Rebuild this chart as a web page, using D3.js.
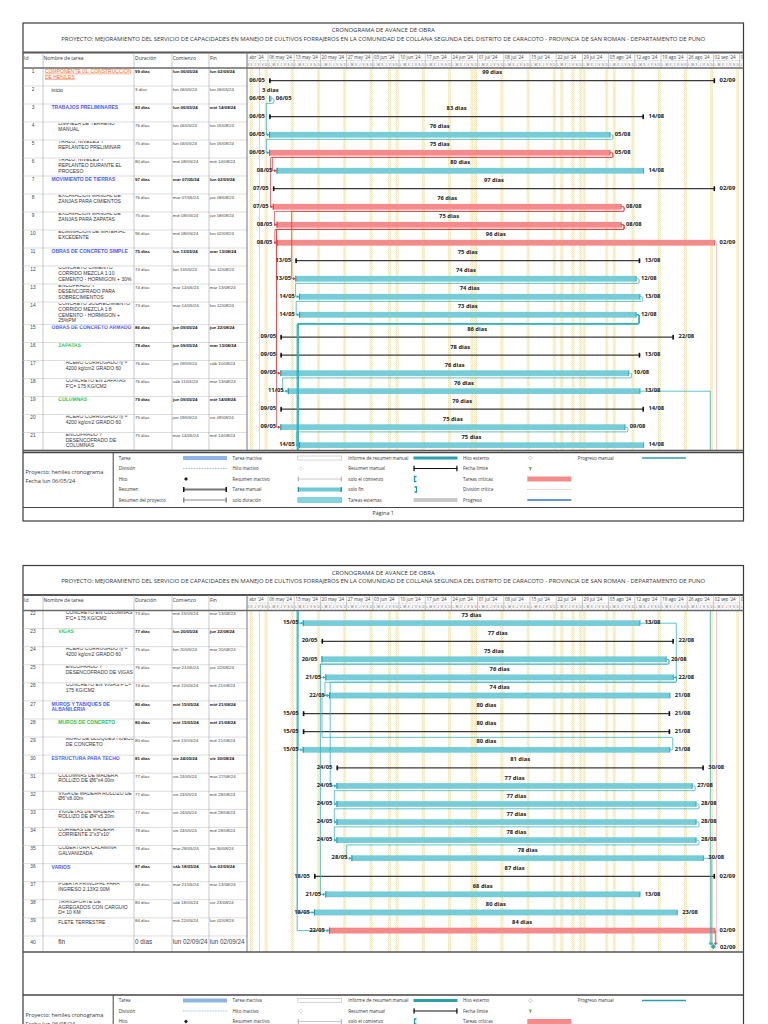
<!DOCTYPE html>
<html><head><meta charset="utf-8">
<script src="https://cdn.jsdelivr.net/npm/d3@7/dist/d3.min.js"></script>
<style>html,body{margin:0;padding:0;background:#fff;} svg{display:block}</style>
</head><body>
<svg id="chart" width="768" height="1024" xmlns="http://www.w3.org/2000/svg"></svg>
<script>
// ================= DATA =================
const titleText = "CRONOGRAMA DE AVANCE DE OBRA";
const projectText = "PROYECTO: MEJORAMIENTO DEL SERVICIO DE CAPACIDADES EN MANEJO DE CULTIVOS FORRAJEROS EN LA COMUNIDAD DE COLLANA SEGUNDA DEL DISTRITO DE CARACOTO - PROVINCIA DE SAN ROMAN - DEPARTAMENTO DE PUNO";
const columnHeaders = ["Id", "Nombre de tarea", "Duración", "Comienzo", "Fin"];
const taskIds = [1,2,3,4,5,6,7,8,9,10,11,12,13,14,15,16,17,18,19,20,21,22,23,24,25,26,27,28,29,30,31,32,33,34,35,36,37,38,39,40];
const taskNames = [
  "COMPONENTE 01: CONSTRUCCION|DE HENILES",
  "inicio",
  "TRABAJOS PRELIMINARES",
  "LIMPIEZA DE TERRENO|MANUAL",
  "TRAZO, NIVELES Y|REPLANTEO PRELIMINAR",
  "TRAZO, NIVELES Y|REPLANTEO DURANTE EL|PROCESO",
  "MOVIMIENTO DE TIERRAS",
  "EXCAVACION MANUAL DE|ZANJAS PARA CIMIENTOS",
  "EXCAVACION MANUAL DE|ZANJAS PARA ZAPATAS",
  "ELIMINACION DE MATERIAL|EXCEDENTE",
  "OBRAS DE CONCRETO SIMPLE",
  "CONCRETO CIMIENTO|CORRIDO MEZCLA 1:10|CEMENTO - HORMIGON + 30%",
  "ENCOFRADO Y|DESENCOFRADO PARA|SOBRECIMIENTOS",
  "CONCRETO SOBRECIMIENTO|CORRIDO MEZCLA 1:8|CEMENTO - HORMIGON +|25%PM",
  "OBRAS DE CONCRETO ARMADO",
  "ZAPATAS",
  "ACERO CORRUGADO fy =|4200 kg/cm2 GRADO 60",
  "CONCRETO EN ZAPATAS|F'C= 175 KG/CM2",
  "COLUMNAS",
  "ACERO CORRUGADO fy =|4200 kg/cm2 GRADO 60",
  "ENCOFRADO Y|DESENCOFRADO DE|COLUMNAS",
  "CONCRETO EN COLUMNAS|F'C= 175 KG/CM2",
  "VIGAS",
  "ACERO CORRUGADO fy =|4200 kg/cm2 GRADO 60",
  "ENCOFRADO Y|DESENCOFRADO DE VIGAS",
  "CONCRETO EN VIGAS F'C=|175 KG/CM2",
  "MUROS Y TABIQUES DE|ALBAÑILERIA",
  "MUROS DE CONCRETO",
  "MURO DE BLOQUES HUECO|DE CONCRETO",
  "ESTRUCTURA PARA TECHO",
  "COLUMNAS DE MADERA|ROLLIZO DE Ø6\"x4.00m",
  "VIGA DE MADERA ROLLIZO DE|Ø6\"x8.00m",
  "VIGUETAS DE MADERA|ROLLIZO DE Ø4\"x5.20m",
  "CORREAS DE MADERA|CORRIENTE 2\"x3\"x10'",
  "COBERTURA CALAMINA|GALVANIZADA",
  "VARIOS",
  "PUERTA PRINCIPAL PARA|INGRESO 2.13X2.00M",
  "TRANSPORTE DE|AGREGADOS CON CARGUIO|D= 10 KM",
  "FLETE TERRESTRE",
  "fin"
];
const taskLevels = [1,2,2,3,3,3,2,3,3,3,2,3,3,3,2,3,4,4,3,4,4,4,3,4,4,4,2,3,4,2,3,3,3,3,3,2,3,3,3,3];
const taskKinds = ["top","task","sum","task","task","task","sum","task","task","task","sum","task","task","task","sum","sum","task","task","sum","task","task",
                   "task","sum","task","task","task","sum","sum","task","sum","task","task","task","task","task","sum","task","task","task","mile"];
const criticalIds = [5,8,9,10,39];
const durations = ["99 días","3 días","83 días","76 días","75 días","80 días","97 días","76 días","75 días","96 días","75 días","74 días","74 días","73 días","86 días","78 días","76 días","76 días","79 días","75 días","75 días",
                   "73 días","77 días","75 días","76 días","74 días","80 días","80 días","80 días","81 días","77 días","77 días","77 días","78 días","78 días","87 días","68 días","80 días","84 días","0 días"];
const startDates = ["lun 06/05/24","lun 06/05/24","lun 06/05/24","lun 06/05/24","lun 06/05/24","mié 08/05/24","mar 07/05/24","mar 07/05/24","mié 08/05/24","mié 08/05/24","lun 13/05/24","lun 13/05/24","mar 14/05/24","mar 14/05/24","jue 09/05/24","jue 09/05/24","jue 09/05/24","sáb 11/05/24","jue 09/05/24","jue 09/05/24","mar 14/05/24",
                    "mié 15/05/24","lun 20/05/24","lun 20/05/24","mar 21/05/24","mié 22/05/24","mié 15/05/24","mié 15/05/24","mié 15/05/24","vie 24/05/24","vie 24/05/24","vie 24/05/24","vie 24/05/24","vie 24/05/24","mar 28/05/24","sáb 18/05/24","mar 21/05/24","sáb 18/05/24","mié 22/05/24","lun 02/09/24"];
const finishDates = ["lun 02/09/24","lun 06/05/24","mié 14/08/24","lun 05/08/24","lun 05/08/24","mié 14/08/24","lun 02/09/24","jue 08/08/24","jue 08/08/24","lun 02/09/24","mar 13/08/24","lun 12/08/24","mar 13/08/24","lun 12/08/24","jue 22/08/24","mar 13/08/24","sáb 10/08/24","mar 13/08/24","mié 14/08/24","vie 09/08/24","mié 14/08/24",
                     "mar 13/08/24","jue 22/08/24","mar 20/08/24","jue 22/08/24","mié 21/08/24","mié 21/08/24","mié 21/08/24","mié 21/08/24","vie 30/08/24","mar 27/08/24","mié 28/08/24","mié 28/08/24","mié 28/08/24","vie 30/08/24","lun 02/09/24","mar 13/08/24","vie 23/08/24","lun 02/09/24","lun 02/09/24"];
const weekLabels = ["29 abr '24","06 may '24","13 may '24","20 may '24","27 may '24","03 jun '24","10 jun '24","17 jun '24","24 jun '24","01 jul '24","08 jul '24","15 jul '24","22 jul '24","29 jul '24","05 ago '24","12 ago '24","19 ago '24","26 ago '24","02 sep '24","09 sep '24"];
const dayLetters = ["D","L","M","X","J","V","S"];
const holidays = ["01/05/24","07/06/24","29/06/24","23/07/24","26/07/24","29/07/24","06/08/24"];
const statusDate = "03/05/24";
// links: predecessor, successor, type
const links = [[2,4,"fs"],[4,5,"fs"],[5,6,"fs"],[5,8,"fs"],[8,9,"fs"],[8,12,"fs"],[9,10,"fs"],[9,17,"fs"],[9,20,"fs"],[10,40,"drop"],
               [12,13,"fs"],[13,14,"fs"],[14,21,"fs"],[14,22,"fs"],[14,29,"fs"],[14,38,"fs"],[14,39,"fs"],[17,18,"fs"],[18,40,"drop"],[20,21,"fs"],
               [22,25,"ff"],[24,25,"fs"],[24,37,"fs"],[25,26,"fs"],[25,31,"fs"],[29,26,"up"],[31,32,"fs"],[32,33,"fs"],[33,34,"fs"],[34,35,"fs"],[35,40,"drop"],[39,40,"drop"]];
const legendColumns = [
  ["Tarea","División","Hito","Resumen","Resumen del proyecto"],
  ["Tarea inactiva","Hito inactivo","Resumen inactivo","Tarea manual","solo duración"],
  ["Informe de resumen manual","Resumen manual","solo el comienzo","solo fin","Tareas externas"],
  ["Hito externo","Fecha límite","Tareas críticas","División crítica","Progreso"],
  ["Progreso manual"]
];
const projectInfo = ["Proyecto: heniles cronograma","Fecha lun 06/05/24"];
const pageLabels = ["Página 1","Página 2"];

// ================= LAYOUT / STYLE =================
const SEG = "'Open Sans','Noto Sans',sans-serif";
const ARI = "'Liberation Sans',Arial,sans-serif";
const L = 23, R = 743.5;
const colX = {id:23, name:43, dur:134, start:172, fin:209, gantt:247};
const pageTop = [23, 565.5];
const rowStart = [68, 610.5];
const indentX = {1:45, 2:51.5, 3:58.3, 4:65.7};
const linkVia = [266.3,266.3,272.6,270.6,274.4,291.7,274.9,276.6,276.6,716.6,
                 295.6,296.2,298.3,298.3,298.3,297.2,297.2,282.7,710.3,296.3,
                 676.3,320.4,320.4,325.0,330.2,322.0,334.3,334.3,334.3,346.7,711.8,715.4];
const TEAL = "#76cdd7", TEAL_D = "#1f9aa8", RED = "#f48a8a", RED_D = "#e23b3b", LINK_T = "#2bb1bf", LINK_R = "#e6393b", LINK_P = "#f5b3b3";

const svg = d3.select("#chart");
const defs = svg.append("defs");
const pat = defs.append("pattern").attr("id","hatch").attr("width",2).attr("height",2).attr("patternUnits","userSpaceOnUse");
pat.append("rect").attr("width",2).attr("height",2).attr("fill","#fbf6dc");
pat.append("rect").attr("width",1).attr("height",1).attr("fill","#f0e4ad");
pat.append("rect").attr("x",1).attr("y",1).attr("width",1).attr("height",1).attr("fill","#f4ebc0");

const monthMap = {ene:0,feb:1,mar:2,abr:3,may:4,jun:5,jul:6,ago:7,sep:8,oct:9,nov:10,dic:11};
const pdm = s => { const p = s.split("/"); return new Date(2000 + (+p[2]), +p[1]-1, +p[0]); };
const pdt = s => pdm(s.split(" ")[1]);
const pwk = s => { const p = s.split(" "); return new Date(2000 + (+p[2].replace("'","")), monthMap[p[1]], +p[0]); };
const DAY = 86400000;

const x = d3.scaleTime().domain([new Date(2024,4,6), new Date(2024,8,2)]).range([268, 268 + 119*3.743]);
const dayW = x(new Date(2024,4,7)) - x(new Date(2024,4,6));

const tasks = taskIds.map((id,i)=>({id, name:taskNames[i], level:taskLevels[i], kind:taskKinds[i], dur:durations[i],
  start:startDates[i], finish:finishDates[i], crit:criticalIds.includes(id)}));
const byId = new Map(tasks.map(t=>[t.id,t]));
const yy = rowStart.slice();
tasks.forEach(t=>{
  t.page = t.id <= 21 ? 0 : 1;
  t.h = t.page === 0 ? (t.id === 14 ? 22.5 : 18) : (t.id === 40 ? 16 : 18.08);
  t.top = yy[t.page]; yy[t.page] += t.h; t.bottom = t.top + t.h;
  const s = pdt(t.start), f = pdt(t.finish);
  if (t.kind === "mile") { t.xs = t.xe = x(f); t.by = t.top + 10.7; }
  else {
    t.xs = x(new Date(+s + 0.3*DAY)); t.xe = x(new Date(+f + 0.45*DAY));
    if (t.id === 2) t.xe = t.xs + 2.2;
    t.by = t.top + 12.7;
  }
});
const tableBottom = yy.slice();

function pageG(pi){
  const T = pageTop[pi];
  const g = svg.append("g");
  const tb = tableBottom[pi];
  const hTop = T + 29.5, hBot = rowStart[pi];
  const lt = T + 429.5;
  const bottom = pi === 0 ? lt + 68.5 : 1030;
  g.append("rect").attr("x",L).attr("y",T).attr("width",R-L).attr("height",bottom-T).attr("fill","#fff").attr("stroke","#3a3a3a").attr("stroke-width",1.2);

  // titles
  g.append("text").attr("x",(L+R)/2).attr("y",T+9).attr("text-anchor","middle").attr("font-family",SEG).attr("font-size",6).attr("fill","#333")
    .attr("textLength",103).attr("lengthAdjust","spacingAndGlyphs").text(titleText);
  g.append("text").attr("x",(L+R)/2).attr("y",T+17.6).attr("text-anchor","middle").attr("font-family",SEG).attr("font-size",6).attr("fill","#333")
    .attr("textLength",644).attr("lengthAdjust","spacingAndGlyphs").text(projectText);
  g.append("line").attr("x1",L).attr("x2",R).attr("y1",hTop).attr("y2",hTop).attr("stroke","#555").attr("stroke-width",1.8);

  // clip for timeline
  const cid = "tl"+pi;
  defs.append("clipPath").attr("id",cid).append("rect").attr("x",colX.gantt+0.6).attr("y",hTop).attr("width",R-colX.gantt-1.2).attr("height",tb-hTop);
  const tl = g.append("g").attr("clip-path",`url(#${cid})`);

  // non-working bands
  const d0 = new Date(2024,3,27), d1 = new Date(2024,8,16);
  const offDays = d3.timeDay.range(d0,d1).filter(d => d.getDay() === 0 || holidays.some(h => +pdm(h) === +d));
  tl.selectAll("rect.band").data(offDays).join("rect").attr("x",d=>x(d)+0.3).attr("y",hBot).attr("width",dayW-0.6).attr("height",tb-hBot).attr("fill","url(#hatch)");
  const sx = x(new Date(+pdm(statusDate) + 0.7*DAY));
  tl.append("line").attr("x1",sx).attr("x2",sx).attr("y1",hBot).attr("y2",tb).attr("stroke","#b9dfb2").attr("stroke-width",0.9);

  // timeline header
  const hMid = hTop + 8;
  tl.append("line").attr("x1",colX.gantt).attr("x2",R).attr("y1",hMid).attr("y2",hMid).attr("stroke","#bbb").attr("stroke-width",0.4);
  const days = d3.timeDay.range(d0,d1);
  tl.selectAll("line.dsep").data(days).join("line").attr("x1",d=>x(d)).attr("x2",d=>x(d)).attr("y1",hMid).attr("y2",hBot).attr("stroke","#bbb").attr("stroke-width",0.3);
  tl.selectAll("text.dl").data(days).join("text").attr("x",d=>x(d)+dayW/2).attr("y",hBot-2.2).attr("text-anchor","middle")
    .attr("font-family",ARI).attr("font-size",2.9).attr("fill","#555").text(d=>dayLetters[d.getDay()]);
  tl.selectAll("line.wsep").data(weekLabels).join("line").attr("x1",d=>x(pwk(d))).attr("x2",d=>x(pwk(d))).attr("y1",hTop).attr("y2",hBot).attr("stroke","#999").attr("stroke-width",0.5);
  tl.selectAll("text.wl").data(weekLabels).join("text").attr("x",d=>x(pwk(d))+1.2).attr("y",hTop+6).attr("font-family",SEG).attr("font-size",4.5).attr("fill","#444").text(d=>d);

  // header row
  const hy = hTop + 7.2;
  const hx = [colX.id+1, colX.name+0.5, colX.dur+1, colX.start+0.7, colX.fin+1];
  columnHeaders.forEach((h,i)=> g.append("text").attr("x",hx[i]).attr("y",hy).attr("font-family",SEG).attr("font-size",5).attr("fill","#333").text(h));

  // table rows
  const pts = tasks.filter(t=>t.page===pi);
  pts.forEach(t=>{
    if (t.id !== pts[pts.length-1].id)
      g.append("line").attr("x1",L).attr("x2",colX.gantt).attr("y1",t.bottom).attr("y2",t.bottom).attr("stroke","#c6c6c6").attr("stroke-width",0.6);
    const big = t.kind === "mile";
    const bold = (t.kind === "sum" || t.kind === "top");
    const fs = big ? 6.3 : 4.4;
    const by = big ? t.top + 8 : t.top + 4.6;
    g.append("text").attr("x",33).attr("y",by).attr("text-anchor","middle").attr("font-family",ARI).attr("font-size",big?5:4.8).attr("fill","#444").text(t.id);
    [[t.dur,colX.dur+1],[t.start,colX.start+0.8],[t.finish,colX.fin+0.8]].forEach(([s,xx])=>{
      g.append("text").attr("x",xx).attr("y",by).attr("font-family",ARI).attr("font-size",fs).attr("font-weight",bold?"bold":"normal").attr("fill",bold?"#111":"#444").text(s);
    });
    // name
    const rc = "rc"+t.id;
    defs.append("clipPath").attr("id",rc).append("rect").attr("x",colX.name+0.5).attr("y",t.top+1).attr("width",colX.dur-colX.name-1).attr("height",t.h-1);
    const ng = g.append("g").attr("clip-path",`url(#${rc})`);
    const lines = t.name.split("|");
    let color = "#333";
    if (t.kind === "top") color = "#f2692b";
    else if (t.kind === "sum") color = t.level === 2 ? "#4a5cf2" : "#2cbf55";
    lines.forEach((ln,i)=>{
      let yb;
      if (big) yb = t.top + 8;
      else if (bold) yb = t.top + 4.9 + 5.6*i;
      else if (lines.length === 1) yb = t.top + 5.8;
      else yb = t.top + 3.4 + 5.6*i;
      const tx = ng.append("text").attr("x",indentX[t.level]).attr("y",yb).attr("font-family",ARI).attr("font-size",big?6.3:5)
        .attr("font-weight",(bold && t.kind!=="top")?"bold":"normal").attr("fill",color).text(ln);
      if (t.kind === "top") {
        const w = tx.node().getComputedTextLength();
        ng.append("line").attr("x1",indentX[t.level]).attr("x2",indentX[t.level]+w).attr("y1",yb+0.9).attr("y2",yb+0.9).attr("stroke",color).attr("stroke-width",0.5);
      }
    });
  });
  // column lines
  [colX.name, colX.dur, colX.start, colX.fin].forEach(cx=>{
    g.append("line").attr("x1",cx).attr("x2",cx).attr("y1",hTop).attr("y2",tb).attr("stroke","#a5a5a5").attr("stroke-width",0.6);
  });
  g.append("line").attr("x1",colX.gantt).attr("x2",colX.gantt).attr("y1",hTop).attr("y2",tb).attr("stroke","#777").attr("stroke-width",1);
  g.append("line").attr("x1",L).attr("x2",R).attr("y1",hBot).attr("y2",hBot).attr("stroke","#6a6a6a").attr("stroke-width",1.6);
  g.append("line").attr("x1",L).attr("x2",R).attr("y1",tb).attr("y2",tb).attr("stroke","#555").attr("stroke-width",1.6);

  // bars
  const bg = tl.append("g");
  pts.forEach(t=>{
    if (t.kind === "sum" || t.kind === "top") {
      bg.append("line").attr("x1",t.xs).attr("x2",t.xe).attr("y1",t.by).attr("y2",t.by).attr("stroke","#3a3a3a").attr("stroke-width",1.2);
      [t.xs, t.xe-1.6].forEach(cx=> bg.append("rect").attr("x",cx).attr("y",t.by-2.4).attr("width",1.6).attr("height",4.8).attr("fill","#111"));
    } else if (t.kind === "task") {
      bg.append("rect").attr("x",t.xs).attr("y",t.by-2.6).attr("width",t.xe-t.xs).attr("height",5.2)
        .attr("fill",t.crit?RED:TEAL).attr("stroke",t.crit?"#ef7a7a":"#62c2cd").attr("stroke-width",0.4);
      bg.append("rect").attr("x",t.xs).attr("y",t.by-3).attr("width",1).attr("height",6).attr("fill",t.crit?RED_D:TEAL_D);
      if (t.id !== 2) bg.append("rect").attr("x",t.xe-1).attr("y",t.by-2.6).attr("width",0.9).attr("height",5.2).attr("fill",t.crit?"#ee6f6f":"#3fb0bd");
    } else {
      const s = 2.6;
      bg.append("path").attr("d",`M${t.xs},${t.by-s}L${t.xs+s},${t.by}L${t.xs},${t.by+s}L${t.xs-s},${t.by}Z`).attr("fill","#2aa8b5");
    }
  });
  return {g, tl, lt, T, bottom};
}

const pages = [pageG(0), pageG(1)];

// links
links.forEach((lk,i)=>{
  const [pid,sid,type] = lk;
  const p = byId.get(pid), s = byId.get(sid);
  const via = linkVia[i];
  const col = (pid === 10) ? LINK_P : (p.crit ? LINK_R : LINK_T);
  const same = p.page === s.page;
  const gp = pages[p.page].tl.append("g"), gs = pages[s.page].tl.append("g");
  const stroke = sel => sel.attr("fill","none").attr("stroke",col).attr("stroke-width",0.75);
  const arrowR = (gg) => gg.append("path").attr("d",`M${s.xs-2.4},${s.by-1.6}L${s.xs+0.3},${s.by}L${s.xs-2.4},${s.by+1.6}Z`).attr("fill",col);
  if (type === "fs" || type === "up") {
    const yR = type === "fs" ? p.bottom - 0.6 : p.top + 0.3;
    const dir = type === "fs" ? 1 : -1;
    const ex = p.xe + 2.6;
    let d = `M${p.xe},${p.by}H${ex-1.2}Q${ex},${p.by} ${ex},${p.by+1.2*dir}V${yR-1.2*dir}Q${ex},${yR} ${ex-1.2},${yR}H${via}`;
    if (same) { d += `V${s.by}H${s.xs}`; gp.append("path").attr("d",d).call(stroke); arrowR(gp); }
    else {
      d += `V${tableBottom[p.page]}`; gp.append("path").attr("d",d).call(stroke);
      gs.append("path").attr("d",`M${via},${rowStart[s.page]}V${s.by}H${s.xs}`).call(stroke); arrowR(gs);
    }
  } else if (type === "drop") {
    const yEnd = s.by - 3.4;
    let d = `M${p.xe},${p.by}H${via}`;
    const arrowD = gg => gg.append("path").attr("d",`M${via-1.6},${yEnd-0.4}L${via+1.6},${yEnd-0.4}L${via},${yEnd+2.2}Z`).attr("fill",col);
    if (same) { d += `V${yEnd}`; gp.append("path").attr("d",d).call(stroke); arrowD(gp); }
    else {
      d += `V${tableBottom[p.page]}`; gp.append("path").attr("d",d).call(stroke);
      gs.append("path").attr("d",`M${via},${rowStart[s.page]}V${yEnd}`).call(stroke); arrowD(gs);
    }
  } else if (type === "ff") {
    gp.append("path").attr("d",`M${p.xe},${p.by}H${via}V${s.by}H${s.xe+2.4}`).call(stroke);
    gp.append("path").attr("d",`M${s.xe+2.6},${s.by-1.6}L${s.xe},${s.by}L${s.xe+2.6},${s.by+1.6}Z`).attr("fill",col);
  }
});

// bar labels
tasks.forEach(t=>{
  const lg = pages[t.page].tl;
  const lab = (xx, yb, txt, anchor) => lg.append("text").attr("x",xx).attr("y",yb).attr("text-anchor",anchor)
    .attr("font-family",SEG).attr("font-size",5.8).attr("font-weight","bold").attr("fill","#222").text(txt);
  const dd = s => s.split(" ")[1].slice(0,5);
  if (t.kind === "mile") { lab(t.xe+6.5, t.by+2, dd(t.finish), "start"); return; }
  lab(t.xs-4.2, t.by+1.2, dd(t.start), "end");
  lab(t.xe+4.5, t.by+1.2, dd(t.finish), "start");
  lab((t.xs+t.xe)/2, t.by-6.4, t.dur.replace("días","dias"), "middle");
});

// legend
function legend(pi){
  const {g, lt, bottom} = pages[pi];
  g.append("line").attr("x1",L).attr("x2",R).attr("y1",lt).attr("y2",lt).attr("stroke","#444").attr("stroke-width",1.4);
  g.append("line").attr("x1",113.2).attr("x2",113.2).attr("y1",lt).attr("y2",lt+55).attr("stroke","#444").attr("stroke-width",1);
  g.append("line").attr("x1",L).attr("x2",R).attr("y1",lt+55).attr("y2",lt+55).attr("stroke","#444").attr("stroke-width",1.2);
  projectInfo.forEach((s,i)=> g.append("text").attr("x",25.5).attr("y",lt+21.5+9*i).attr("font-family",SEG).attr("font-size",5.6).attr("fill","#333").text(s));
  const lx = [118.7, 232.6, 348.3, 463, 577.8], sxs = [183, 297.8, 413.5, 527.3, 642], sw = 44;
  legendColumns.forEach((items,ci)=>{
    items.forEach((name,ri)=>{
      const cy = lt + 5.5 + 10.5*ri;
      g.append("text").attr("x",lx[ci]).attr("y",cy+1.5).attr("font-family",SEG).attr("font-size",4.5).attr("fill","#333").text(name);
      const sx = sxs[ci];
      const rect = (h,fill,stroke) => g.append("rect").attr("x",sx).attr("y",cy-h/2).attr("width",sw).attr("height",h).attr("fill",fill).attr("stroke",stroke||"none").attr("stroke-width",0.5);
      const hline = (c,w,dash) => g.append("line").attr("x1",sx).attr("x2",sx+sw).attr("y1",cy).attr("y2",cy).attr("stroke",c).attr("stroke-width",w).attr("stroke-dasharray",dash||null);
      const dia = (fill,stroke) => g.append("path").attr("d",`M${sx+3},${cy-2}L${sx+5},${cy}L${sx+3},${cy+2}L${sx+1},${cy}Z`).attr("fill",fill).attr("stroke",stroke||"none").attr("stroke-width",0.5);
      const caps = (c,w,h) => [sx, sx+sw-w].forEach(cx=> g.append("rect").attr("x",cx).attr("y",cy-h/2).attr("width",w).attr("height",h).attr("fill",c));
      switch(name){
        case "Tarea": rect(4,"#8db5e9"); break;
        case "División": hline("#6f9fe0",0.8,"0.8,0.8"); break;
        case "Hito": dia("#222"); break;
        case "Resumen": hline("#777",1.8); caps("#111",1.5,5); break;
        case "Resumen del proyecto": hline("#b0b0b0",1.6); caps("#888",1.5,5); break;
        case "Tarea inactiva": rect(4,"#fff","#aaa"); break;
        case "Hito inactivo": dia("#fff","#bbb"); break;
        case "Resumen inactivo": hline("#c8c8c8",1); caps("#aaa",1,5); break;
        case "Tarea manual": rect(4,"#6fcad3"); caps("#178f9c",1.2,5); break;
        case "solo duración": rect(5,"#86d3db","#4cb9c5"); break;
        case "Informe de resumen manual": rect(3,"#2aa0ac"); break;
        case "Resumen manual": hline("#111",1); caps("#111",1.2,5.5); break;
        case "solo el comienzo": g.append("path").attr("d",`M${sx+3},${cy-2.5}H${sx+1}V${cy+2.5}H${sx+3}`).attr("fill","none").attr("stroke","#1d9aa6").attr("stroke-width",1.3); break;
        case "solo fin": g.append("path").attr("d",`M${sx+1},${cy-2.5}H${sx+3}V${cy+2.5}H${sx+1}`).attr("fill","none").attr("stroke","#1d9aa6").attr("stroke-width",1.3); break;
        case "Tareas externas": rect(4,"#c9c9c9"); break;
        case "Hito externo": dia("#fff","#999"); break;
        case "Fecha límite": g.append("path").attr("d",`M${sx+1.5},${cy-1.5}L${sx+4.5},${cy-1.5}L${sx+3},${cy+2.5}Z`).attr("fill","#5fb944"); break;
        case "Tareas críticas": rect(5,"#f48b8b"); break;
        case "División crítica": hline("#f29a9a",0.8,"0.8,0.8"); break;
        case "Progreso": hline("#2f74d0",1.4); break;
        case "Progreso manual": hline("#2aa0ac",1.4); break;
      }
    });
  });
  if (pi === 0) {
    g.append("text").attr("x",(L+R)/2).attr("y",lt+62).attr("text-anchor","middle").attr("font-family",SEG).attr("font-size",5.4).attr("fill","#333").text(pageLabels[0]);
  }
}
legend(0); legend(1);
</script>
</body></html>
